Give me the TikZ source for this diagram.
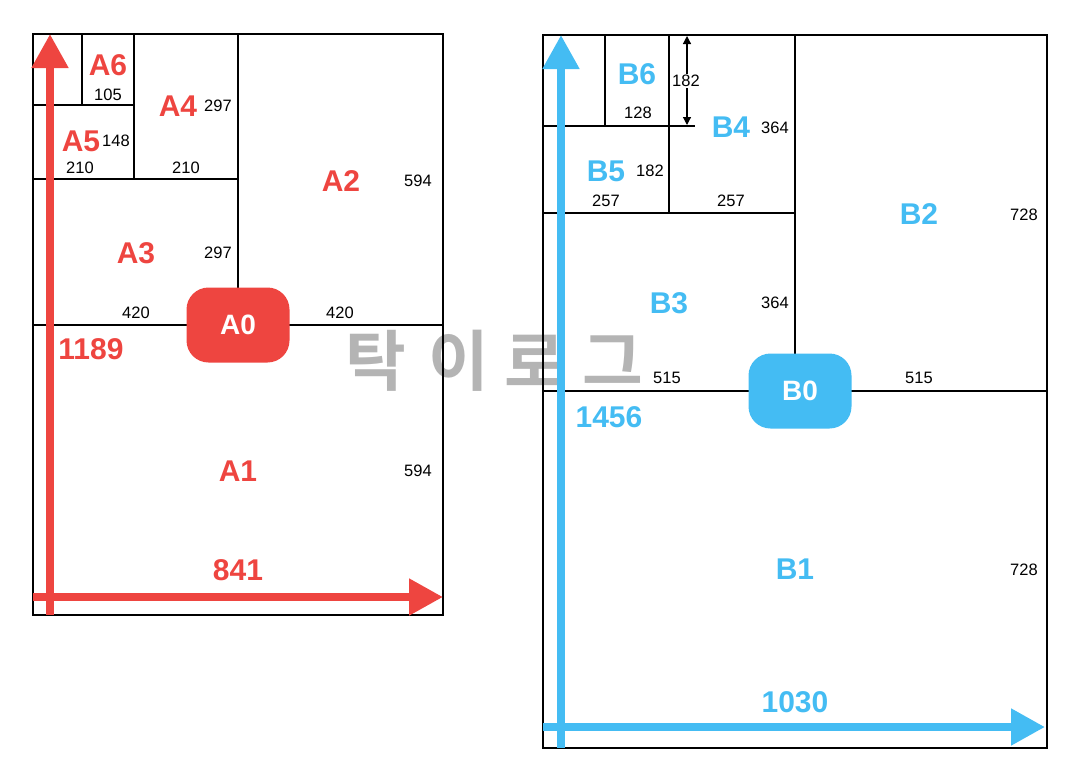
\documentclass[tikz,border=0pt]{standalone}
\usepackage{fontspec}
\setmainfont{Liberation Sans}
\newfontfamily\krfont{Noto Sans CJK KR}[BoldFont={* Bold}]
\usetikzlibrary{arrows.meta}
\definecolor{ared}{HTML}{EE4540}
\definecolor{bblue}{HTML}{44BCF3}
\definecolor{wmgray}{HTML}{B4B4B4}
\tikzset{
  frame/.style={line width=2pt, black},
  biglbl/.style={font=\fontsize{30}{30}\selectfont\bfseries, inner sep=0pt},
  num/.style={font=\fontsize{16.5}{16.5}\selectfont, inner sep=0pt},
  redlbl/.style={biglbl, text=ared},
  bluelbl/.style={biglbl, text=bblue},
  badge/.style={rounded corners=22pt, minimum width=103pt, minimum height=75pt, inner sep=0pt, text=white, font=\fontsize{28}{28}\selectfont\bfseries},
  bigarrow/.style={line width=8pt, -{Triangle[length=34pt,width=35pt]}},
  wm/.style={font=\krfont\fontsize{66}{66}\selectfont\bfseries, text=wmgray, inner sep=0pt},
  dimarrow/.style={line width=1.2pt, {Triangle[length=8pt,width=8pt]}-{Triangle[length=8pt,width=8pt]}}
}
\begin{document}
\begin{tikzpicture}[x=1pt,y=-1pt]
\useasboundingbox (0,0) rectangle (1079,780);
% watermark
\node[wm] (w1) at (376,361) {탁};
\node[wm] (w2) at (459,361) {이};
\node[wm] (w3) at (535,361) {로};
\node[wm] (w4) at (613,361) {그};
% ---------- A sheet ----------
\draw[frame] (33,34) rectangle (443,615);
\draw[frame] (33,325) -- (443,325);
\draw[frame] (238,34) -- (238,325);
\draw[frame] (33,179) -- (238,179);
\draw[frame] (134,34) -- (134,179);
\draw[frame] (33,105) -- (134,105);
\draw[frame] (82,34) -- (82,105);
% A arrows
\coordinate (av0) at (50,615);
\coordinate (av1) at (50,34);
\coordinate (ah0) at (33,597);
\coordinate (ah1) at (443,597);
\draw[bigarrow, ared] (ah0) -- (ah1);
\draw[bigarrow, ared] (av0) -- (av1);
% A labels
\node[redlbl] (a6) at (108,65) {A6};
\node[num] (a6w) at (108,95) {105};
\node[redlbl] (a4) at (178,106) {A4};
\node[num] (a4h) at (218,106) {297};
\node[redlbl] (a5) at (81,141) {A5};
\node[num] (a5h) at (116,141) {148};
\node[num] (a5w) at (80,168) {210};
\node[num] (a4w) at (186,168) {210};
\node[redlbl] (a2) at (341,181) {A2};
\node[num] (a2h) at (418,181) {594};
\node[redlbl] (a3) at (136,253) {A3};
\node[num] (a3h) at (218,253) {297};
\node[num] (a3w) at (136,313) {420};
\node[num] (a2w) at (340,313) {420};
\node[badge, fill=ared] (a0) at (238,325) {A0};
\node[redlbl] (a1189) at (91,349) {1189};
\node[redlbl] (a1) at (238,471) {A1};
\node[num] (a1h) at (418,471) {594};
\node[redlbl] (a841) at (238,570) {841};
% ---------- B sheet ----------
\draw[frame] (543,35) rectangle (1047,748);
\draw[frame] (543,391) -- (1047,391);
\draw[frame] (795,35) -- (795,391);
\draw[frame] (543,213) -- (795,213);
\draw[frame] (669,35) -- (669,213);
\draw[frame] (543,126) -- (695,126);
\draw[frame] (605,35) -- (605,126);
% B arrows
\coordinate (bv0) at (561,748);
\coordinate (bv1) at (561,35);
\coordinate (bh0) at (543,727);
\coordinate (bh1) at (1045,727);
\draw[bigarrow, bblue] (bh0) -- (bh1);
\draw[bigarrow, bblue] (bv0) -- (bv1);
% dimension arrow
\coordinate (d0) at (687,36);
\coordinate (d1) at (687,125);
\draw[dimarrow] (d0) -- (d1);
\node[num, fill=white, inner sep=1pt] (d182) at (686,81) {182};
% B labels
\node[bluelbl] (b6) at (637,74) {B6};
\node[num] (b6w) at (638,113) {128};
\node[bluelbl] (b4) at (731,127) {B4};
\node[num] (b4h) at (775,128) {364};
\node[bluelbl] (b5) at (606,171) {B5};
\node[num] (b5h) at (650,171) {182};
\node[num] (b5w) at (606,201) {257};
\node[num] (b4w) at (731,201) {257};
\node[bluelbl] (b2) at (919,214) {B2};
\node[num] (b2h) at (1024,215) {728};
\node[bluelbl] (b3) at (669,303) {B3};
\node[num] (b3h) at (775,303) {364};
\node[num] (b3w) at (667,378) {515};
\node[num] (b2w) at (919,378) {515};
\node[badge, fill=bblue] (b0) at (800,391) {B0};
\node[bluelbl] (b1456) at (609,417) {1456};
\node[bluelbl] (b1) at (795,569) {B1};
\node[num] (b1h) at (1024,570) {728};
\node[bluelbl] (b1030) at (795,702) {1030};
\end{tikzpicture}
\end{document}
